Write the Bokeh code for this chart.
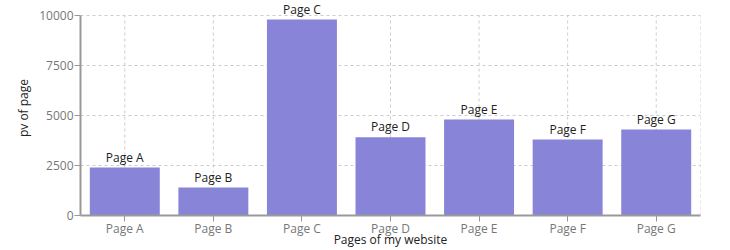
from bokeh.plotting import figure
from bokeh.models import ColumnDataSource, Range1d, FixedTicker, LabelSet
from bokeh.core.properties import value
from bokeh.embed import file_html
from bokeh.resources import INLINE

pages = ["Page A", "Page B", "Page C", "Page D", "Page E", "Page F", "Page G"]
pv = [2400, 1398, 9800, 3908, 4800, 3800, 4300]
y_ticks = [0, 2500, 5000, 7500, 10000]
y_max = 10000

FONT = "Open Sans"
FS = "12px"
xs = [i + 0.5 for i in range(len(pages))]
src = ColumnDataSource(dict(x=xs, page=pages, pv=pv))

p = figure(width=730, height=250, output_backend="svg", toolbar_location=None,
           x_range=Range1d(0, len(pages)),
           y_range=Range1d(0, y_max * 1.075),
           min_border_left=80, min_border_right=30, min_border_top=0, min_border_bottom=35)
p.background_fill_color = "white"
p.border_fill_color = "white"
p.outline_line_color = None

# dashed grid limited to the value domain
p.xgrid.visible = False
p.ygrid.grid_line_color = "#cccccc"
p.ygrid.grid_line_dash = "3 3"
p.ygrid.ticker = FixedTicker(ticks=y_ticks)
grid_x = xs + [len(pages)]
p.segment(x0=grid_x, x1=grid_x, y0=[0] * len(grid_x), y1=[y_max] * len(grid_x),
          line_color="#cccccc", line_dash="3 3", line_width=1)

p.vbar(x="x", top="pv", width=0.79, source=src, fill_color="#8884d8", line_color=None)

labels = LabelSet(x="x", y="pv", text="page", source=src, text_align="center",
                  text_baseline="bottom", y_offset=2, text_font_size=FS,
                  text_font=value(FONT), text_color="#222222")
p.add_layout(labels)

p.yaxis.ticker = FixedTicker(ticks=y_ticks)
p.yaxis.bounds = (0, y_max)
p.xaxis.ticker = FixedTicker(ticks=xs)
p.xaxis.major_label_overrides = {x: lab for x, lab in zip(xs, pages)}
for ax in (p.xaxis[0], p.yaxis[0]):
    ax.axis_line_color = "#999999"
    ax.axis_line_width = 2
    ax.major_tick_line_color = "#999999"
    ax.major_tick_in = 0
    ax.major_tick_out = 6
    ax.minor_tick_line_color = None
    ax.major_label_text_font = FONT
    ax.major_label_text_font_size = FS
    ax.major_label_text_color = "#777777"
    ax.axis_label_text_font = FONT
    ax.axis_label_text_font_size = FS
    ax.axis_label_text_font_style = "normal"
    ax.axis_label_text_color = "#222222"
p.xaxis.axis_label = "Pages of my website"
p.yaxis.axis_label = "pv of page"
p.xaxis.major_label_standoff = -2
p.xaxis.axis_label_standoff = -9
p.yaxis.major_label_standoff = 1
p.yaxis.axis_label_standoff = 4

open("out.html", "w").write(file_html(p, INLINE))
